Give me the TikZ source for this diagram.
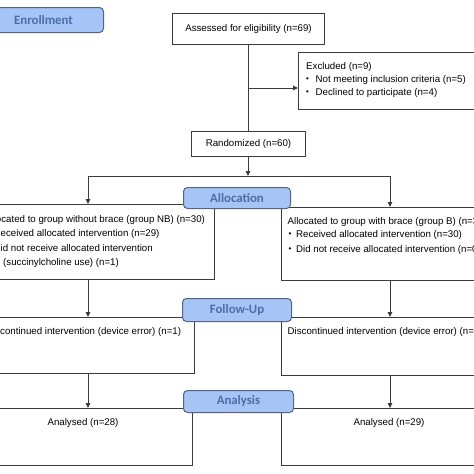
\documentclass[tikz,border=0pt]{standalone}
\usepackage{fontspec}
\setmainfont{Liberation Sans}
\newfontfamily\hdfont{Carlito}
\usetikzlibrary{arrows.meta,calc}
\definecolor{hdfill}{RGB}{166,196,245}
\definecolor{hddraw}{RGB}{84,100,130}
\definecolor{hdtext}{RGB}{76,110,165}
\definecolor{ln}{RGB}{60,60,60}
\newcommand{\bulitem}{\makebox[7.5pt][l]{\fontsize{8}{8}\selectfont\raisebox{0.6pt}{•}}}
\begin{document}
\begin{tikzpicture}[x=1pt,y=-1pt,
  box/.style={draw=ln,line width=1pt,fill=white,inner sep=0pt,anchor=north west,
              font=\fontsize{9.7}{12}\selectfont},
  hdr/.style={draw=hddraw,line width=1pt,fill=hdfill,rounded corners=4pt,inner sep=0pt,
              anchor=north west,font=\hdfont\bfseries\fontsize{12.8}{14}\selectfont,text=hdtext},
  txt/.style={inner sep=0pt,anchor=base west,font=\fontsize{9.7}{12}\selectfont},
  ctxt/.style={inner sep=0pt,anchor=base,font=\fontsize{9.7}{12}\selectfont},
  arr/.style={draw=ln,line width=1pt,-{Triangle[length=5pt,width=4.5pt]}},
  con/.style={draw=ln,line width=1pt}]
\useasboundingbox (0,0) rectangle (474,474);
\clip (0,0) rectangle (474,474);
\fill[white] (0,0) rectangle (474,474);

% column guides
\coordinate (colL) at (88,0);
\coordinate (colR) at (390,0);
\coordinate (colM) at (248,0);

% enrollment
\node[box,minimum width=152pt,minimum height=31pt] (assess) at (172,13) {Assessed for eligibility (n=69)};
\node[box,minimum width=176pt,minimum height=57pt] (excl) at (298,52) {};
\node[txt] (ex1) at (306,69.5) {Excluded (n=9)};
\node[txt] (ex2) at (306,82.5) {\bulitem\hspace{2pt}Not meeting inclusion criteria (n=5)};
\node[txt] (ex3) at (306,95.5) {\bulitem\hspace{2pt}Declined to participate (n=4)};
\node[box,minimum width=114pt,minimum height=25pt] (rand) at (191,131) {Randomized (n=60)};

\coordinate (exbr) at (248,88);
\draw[con] (assess.south -| colM) -- (rand.north -| colM);
\draw[arr] (exbr) -- (exbr -| excl.west);

% allocation
\coordinate (hbar) at (248,176);
\node[box,minimum width=236pt,minimum height=75pt] (nb) at (-22,204) {};
\node[txt] (nb1) at (-15,222.5) {Allocated to group without brace (group NB) (n=30)};
\node[txt] (nb2) at (-14,236.5) {\bulitem Received allocated intervention (n=29)};
\node[txt] (nb3) at (-14,251.5) {\bulitem Did not receive allocated intervention};
\node[txt] (nb4) at (3,265.5) {(succinylcholine use) (n=1)};

\node[box,minimum width=220pt,minimum height=73pt] (gb) at (281,207) {};
\node[txt] (gb1) at (287.5,224.5) {Allocated to group with brace (group B) (n=30)};
\node[txt] (gb2) at (288.5,237.5) {\bulitem Received allocated intervention (n=30)};
\node[txt] (gb3) at (288.5,252.5) {\bulitem Did not receive allocated intervention (n=0)};

\draw[arr] (rand.south -| colM) -- (hbar);
\draw[con] (hbar -| colL) -- (hbar -| colR);
\draw[arr] (hbar -| colL) -- (nb.north -| colL);
\draw[arr] (hbar -| colR) -- (gb.north -| colR);

% follow-up
\node[box,minimum width=215pt,minimum height=56pt] (fl) at (-21,317) {};
\node[txt] (fl1) at (-14,334.5) {Discontinued intervention (device error) (n=1)};
\node[box,minimum width=220pt,minimum height=58pt] (fr) at (281,317) {};
\node[txt] (fr1) at (287.5,334.5) {Discontinued intervention (device error) (n=1)};
\draw[arr] (nb.south -| colL) -- (fl.north -| colL);
\draw[arr] (gb.south -| colR) -- (fr.north -| colR);

% analysis
\node[box,minimum width=218pt,minimum height=57pt] (al) at (-26,408) {};
\node[ctxt] (al1) at (83,425.5) {Analysed (n=28)};
\node[box,minimum width=216pt,minimum height=57pt] (ar) at (281,408) {};
\node[ctxt] (ar1) at (389,425.5) {Analysed (n=29)};
\draw[arr] (fl.south -| colL) -- (al.north -| colL);
\draw[arr] (fr.south -| colR) -- (ar.north -| colR);

% headers
\node[hdr,minimum width=120pt,minimum height=25pt] (enr) at (-17,7) {Enrollment};
\node[hdr,minimum width=107pt,minimum height=21pt] (alloc) at (183,187) {Allocation};
\node[hdr,minimum width=109pt,minimum height=23pt] (fup) at (182,298) {Follow-Up};
\node[hdr,minimum width=110pt,minimum height=22pt] (ana) at (183,390) {Analysis};
\end{tikzpicture}
\end{document}
